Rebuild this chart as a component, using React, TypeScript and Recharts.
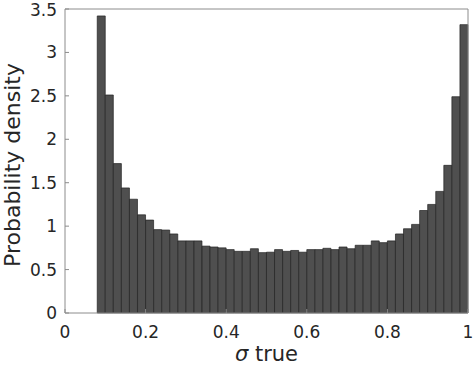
import { BarChart, Bar, XAxis, YAxis } from "recharts"

// histogram of sigma true, bins of 0.02 starting at 0.08
const binStart = 0.08
const binWidth = 0.02
const density = [
    3.42, 2.51, 1.72, 1.44, 1.31, 1.13, 1.07, 0.96, 0.955, 0.91,
    0.83, 0.83, 0.83, 0.77, 0.76, 0.75, 0.73, 0.71, 0.71, 0.74,
    0.695, 0.70, 0.73, 0.71, 0.72, 0.70, 0.73, 0.73, 0.745, 0.73,
    0.76, 0.74, 0.78, 0.78, 0.83, 0.81, 0.83, 0.91, 0.97, 1.02,
    1.18, 1.25, 1.40, 1.70, 2.49, 3.32,
]
const xTicks = [0, 0.2, 0.4, 0.6, 0.8, 1]
const yTicks = [0, 0.5, 1, 1.5, 2, 2.5, 3, 3.5]

// each bar sits on the centre of its bin
const data = density.map((d, i) => ({
    x: binStart + binWidth * (i + 0.5),
    value: d,
}))

const axisColor = "#8c8c8c"
const textColor = "#262626"
const font = "'DejaVu Sans', sans-serif"

const XLabel = ({ viewBox }: any) => {
    const cx = viewBox.x + viewBox.width / 2
    const y = viewBox.y + viewBox.height - 5
    return (
        <text x={cx} y={y} textAnchor="middle" fill={textColor} fontSize={21} fontFamily={font}>
            <tspan fontStyle="italic">σ</tspan> true
        </text>
    )
}

const YLabel = ({ viewBox }: any) => {
    const cy = viewBox.y + viewBox.height / 2 + 4
    const x = viewBox.x + 20
    return (
        <text x={x} y={cy} textAnchor="middle" fill={textColor} fontSize={22} fontFamily={font}
            transform={`rotate(-90, ${x}, ${cy})`}>
            Probability density
        </text>
    )
}

export default function App() {
    const tickStyle = { fill: textColor, fontSize: 17, fontFamily: font }
    return (
        <div style={{ position: "absolute", left: 0, top: 0, background: "#fff" }}>
            <BarChart
                width={474}
                height={366}
                data={data}
                margin={{ top: 8, right: 5, left: 0, bottom: 0 }}
                barCategoryGap={0}
            >
                <XAxis
                    xAxisId="num"
                    dataKey="x"
                    type="number"
                    domain={[0, 1]}
                    ticks={xTicks}
                    height={53}
                    stroke={axisColor}
                    tickSize={-4}
                    tickMargin={17}
                    tick={tickStyle}
                    tickFormatter={(v: number) => String(v)}
                    label={<XLabel />}
                />
                <XAxis
                    xAxisId="top"
                    dataKey="x"
                    orientation="top"
                    type="number"
                    domain={[0, 1]}
                    ticks={xTicks}
                    height={1}
                    stroke={axisColor}
                    tickSize={-4}
                    tick={false}
                />
                <YAxis
                    yAxisId="left"
                    type="number"
                    domain={[0, 3.5]}
                    ticks={yTicks}
                    width={65}
                    stroke={axisColor}
                    tickSize={-4}
                    tickMargin={12}
                    tick={tickStyle}
                    tickFormatter={(v: number) => String(v)}
                    label={<YLabel />}
                />
                <YAxis
                    yAxisId="right"
                    orientation="right"
                    type="number"
                    domain={[0, 3.5]}
                    ticks={yTicks}
                    width={1}
                    stroke={axisColor}
                    tickSize={-4}
                    tick={false}
                />
                <Bar
                    xAxisId="num"
                    yAxisId="left"
                    dataKey="value"
                    fill="#4f4f4f"
                    stroke="#222"
                    strokeWidth={0.7}
                    isAnimationActive={false}
                />
                <Bar
                    xAxisId="top"
                    yAxisId="right"
                    dataKey="value"
                    fill="none"
                    stroke="none"
                    isAnimationActive={false}
                />
            </BarChart>
        </div>
    )
}
